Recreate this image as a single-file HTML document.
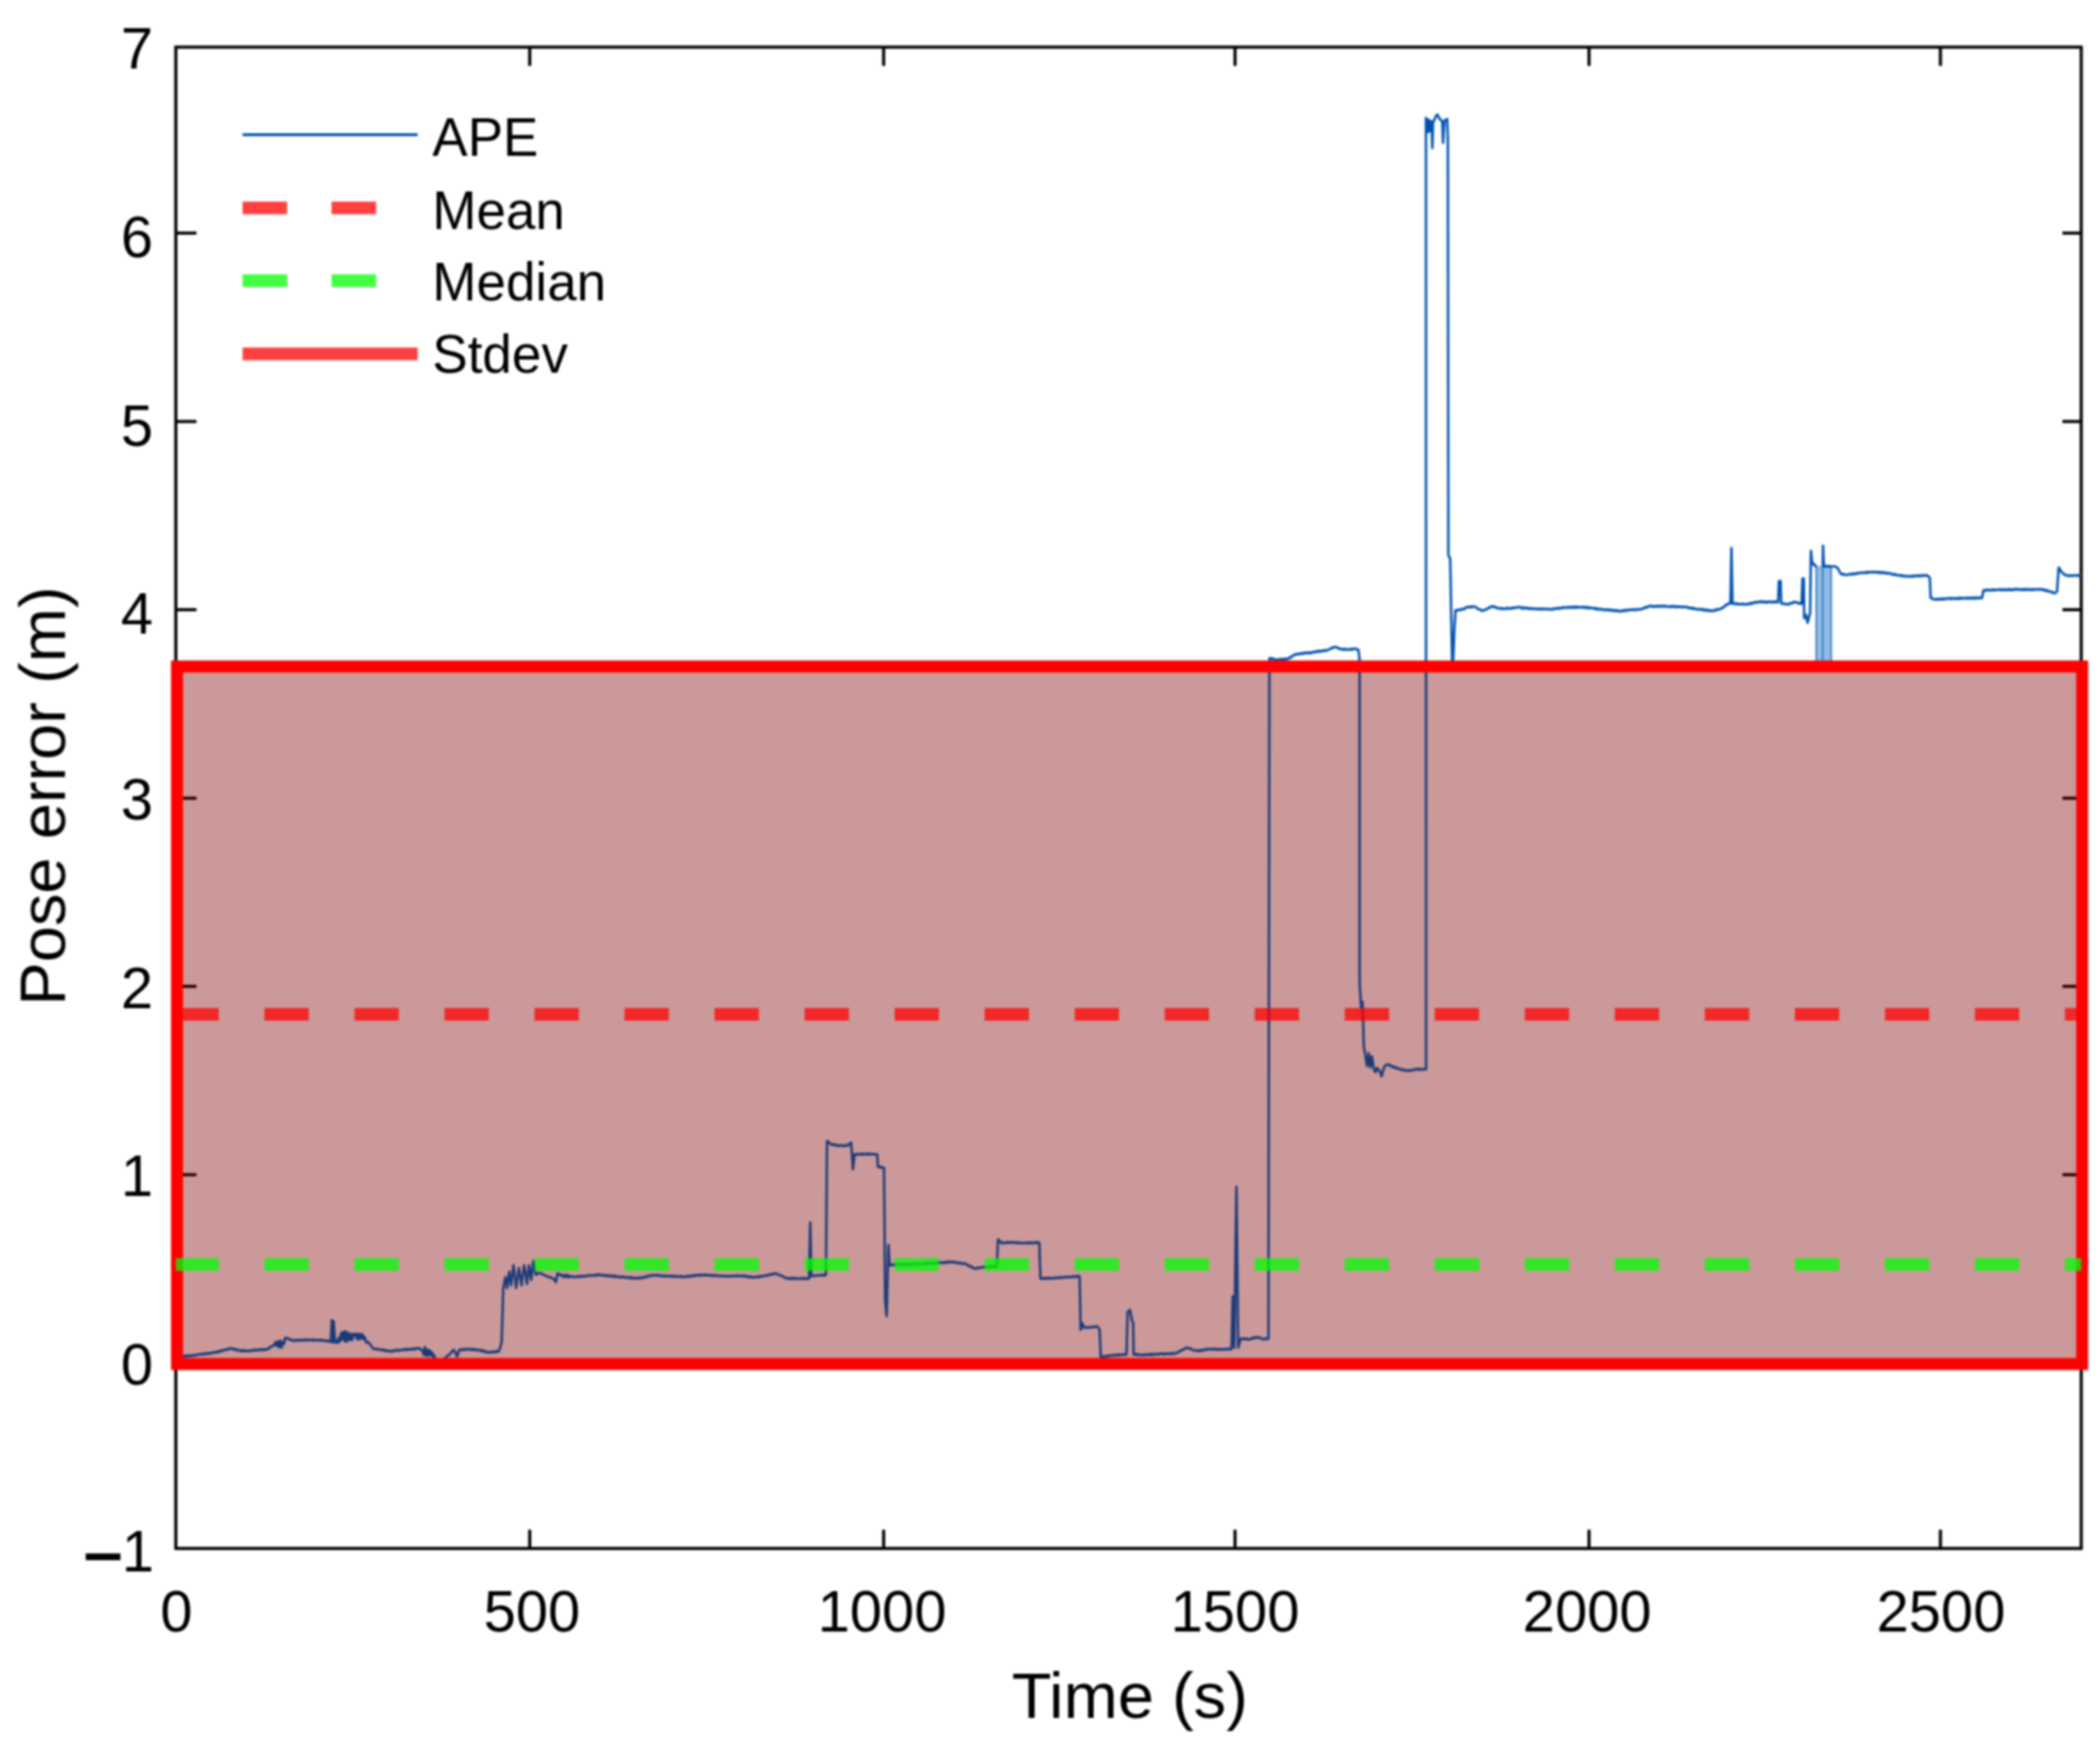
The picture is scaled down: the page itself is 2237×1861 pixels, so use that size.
<!DOCTYPE html>
<html lang="en">
<head>
<meta charset="utf-8">
<title>APE pose error over time</title>
<style>
html,body{margin:0;padding:0;background:#fff;}
body{width:2237px;height:1861px;overflow:hidden;}
svg{display:block;font-family:"Liberation Sans",Arial,Helvetica,sans-serif;}
</style>
</head>
<body>
<svg width="2237" height="1861" viewBox="0 0 2237 1861">
<defs><filter id="soft" filterUnits="userSpaceOnUse" x="0" y="0" width="2237" height="1861" color-interpolation-filters="sRGB"><feGaussianBlur stdDeviation="0.9"/></filter></defs>
<rect x="0" y="0" width="2237" height="1861" fill="#ffffff"/>
<g filter="url(#soft)">
<!-- axes frame and ticks -->
<g stroke="#000" stroke-width="3.3" fill="none" stroke-linecap="butt">
<rect x="187.3" y="50.2" width="2029.7" height="1599.3"/>
<line x1="564.3" y1="1649.5" x2="564.3" y2="1629.5"/>
<line x1="564.3" y1="50.2" x2="564.3" y2="70.2"/>
<line x1="941.3" y1="1649.5" x2="941.3" y2="1629.5"/>
<line x1="941.3" y1="50.2" x2="941.3" y2="70.2"/>
<line x1="1315.6" y1="1649.5" x2="1315.6" y2="1629.5"/>
<line x1="1315.6" y1="50.2" x2="1315.6" y2="70.2"/>
<line x1="1692.7" y1="1649.5" x2="1692.7" y2="1629.5"/>
<line x1="1692.7" y1="50.2" x2="1692.7" y2="70.2"/>
<line x1="2067.0" y1="1649.5" x2="2067.0" y2="1629.5"/>
<line x1="2067.0" y1="50.2" x2="2067.0" y2="70.2"/>
<line x1="187.3" y1="248.3" x2="209.3" y2="248.3"/>
<line x1="2217.0" y1="248.3" x2="2197.0" y2="248.3"/>
<line x1="187.3" y1="449.0" x2="209.3" y2="449.0"/>
<line x1="2217.0" y1="449.0" x2="2197.0" y2="449.0"/>
<line x1="187.3" y1="649.5" x2="209.3" y2="649.5"/>
<line x1="2217.0" y1="649.5" x2="2197.0" y2="649.5"/>
<line x1="187.3" y1="850.3" x2="209.3" y2="850.3"/>
<line x1="2217.0" y1="850.3" x2="2197.0" y2="850.3"/>
<line x1="187.3" y1="1050.7" x2="209.3" y2="1050.7"/>
<line x1="2217.0" y1="1050.7" x2="2197.0" y2="1050.7"/>
<line x1="187.3" y1="1251.4" x2="209.3" y2="1251.4"/>
<line x1="2217.0" y1="1251.4" x2="2197.0" y2="1251.4"/>
<line x1="187.3" y1="1451.6" x2="209.3" y2="1451.6"/>
<line x1="2217.0" y1="1451.6" x2="2197.0" y2="1451.6"/>
</g>
<!-- stdev band -->
<rect x="188.55" y="710.0" width="2029.45" height="743.0" fill="rgb(125,0,0)" fill-opacity="0.4" stroke="none"/>
<!-- APE trace -->
<defs>
<path id="ape" d="M194.4 1445.0L195.6 1444.5L196.8 1445.1L198.1 1444.1L199.3 1444.8L200.5 1443.8L201.7 1444.6L203.0 1443.8L204.2 1444.4L205.4 1443.5L206.6 1444.1L207.9 1443.2L209.1 1443.6L210.3 1442.8L211.6 1443.0L212.8 1442.3L214.0 1443.0L215.2 1442.2L216.5 1442.9L217.7 1441.6L218.9 1442.6L220.1 1441.5L221.4 1442.4L222.6 1441.3L223.8 1442.0L225.0 1440.9L226.3 1441.4L227.5 1440.6L228.7 1440.8L230.0 1440.1L231.2 1440.8L232.4 1439.5L233.6 1440.0L234.9 1438.7L236.1 1439.3L237.3 1438.1L238.5 1438.6L239.8 1437.7L241.0 1438.0L242.2 1436.8L243.4 1437.5L244.7 1436.4L245.9 1436.5L247.1 1436.2L248.3 1437.5L249.6 1436.9L250.8 1438.2L252.0 1437.3L253.3 1438.5L254.5 1438.5L255.7 1439.1L256.9 1438.2L258.2 1439.5L259.4 1438.4L260.6 1439.5L261.8 1438.5L263.1 1439.3L264.3 1438.9L265.6 1439.4L266.9 1438.3L268.2 1439.0L269.4 1438.1L270.7 1438.6L272.0 1437.7L273.2 1438.6L274.5 1437.9L275.7 1438.4L277.0 1437.3L278.2 1438.3L279.4 1437.3L280.6 1438.4L281.9 1437.4L283.1 1437.9L284.5 1436.7L286.0 1437.1L287.4 1435.1L288.8 1435.0L290.5 1433.4L292.3 1432.7L293.5 1429.5L294.8 1434.0L296.1 1429.1L297.4 1435.3L298.7 1428.0L300.0 1435.4L301.3 1429.6L302.6 1431.6L303.7 1425.0L305.0 1425.9L306.4 1425.4L307.7 1426.7L309.1 1426.5L310.4 1427.7L311.7 1427.9L312.9 1428.1L314.2 1427.5L315.4 1428.3L316.6 1427.4L317.9 1428.0L319.1 1427.2L320.3 1428.2L321.5 1427.3L322.8 1428.0L324.0 1427.0L325.2 1428.1L326.4 1426.8L327.7 1428.0L328.9 1427.3L330.1 1427.7L331.3 1427.0L332.6 1427.8L333.8 1426.8L335.0 1428.2L336.3 1427.2L337.5 1427.9L338.7 1427.3L339.9 1428.0L341.2 1427.2L342.4 1428.3L343.6 1427.4L344.8 1428.1L346.1 1427.9L347.3 1428.6L348.6 1428.0L349.8 1429.2L351.1 1428.3L352.4 1429.3L353.5 1406.4L354.4 1429.9L355.5 1407.6L356.7 1430.2L358.1 1427.8L359.5 1430.7L361.0 1424.7L362.2 1429.1L363.5 1419.7L364.8 1426.6L366.1 1418.6L367.3 1429.2L368.6 1418.4L369.9 1429.0L371.2 1420.0L372.4 1427.2L373.7 1420.9L375.0 1427.8L376.3 1420.8L377.6 1423.0L378.8 1420.8L380.0 1426.2L381.2 1420.7L382.4 1426.9L383.6 1421.3L384.8 1425.9L386.0 1421.2L387.2 1426.5L388.4 1424.2L390.1 1430.2L391.9 1429.3L393.3 1431.3L394.7 1432.7L396.2 1435.2L397.6 1436.5L398.8 1437.2L400.0 1436.6L401.3 1437.4L402.5 1436.9L403.7 1437.9L404.9 1437.4L406.2 1437.9L407.4 1437.5L408.6 1439.0L409.9 1438.0L411.1 1439.2L412.3 1438.6L413.5 1439.4L414.8 1439.3L416.1 1439.6L417.4 1438.7L418.7 1439.6L420.0 1438.5L421.3 1438.9L422.6 1437.9L423.9 1438.9L425.2 1438.0L426.5 1438.6L427.8 1437.8L429.1 1437.9L430.3 1437.3L431.5 1438.4L432.7 1436.9L434.0 1438.0L435.2 1437.0L436.4 1437.7L437.7 1436.9L438.9 1437.7L440.1 1436.5L441.3 1437.5L442.6 1436.4L443.8 1437.0L445.0 1436.0L446.2 1436.5L447.6 1436.4L448.9 1438.4L450.2 1438.5L451.4 1443.3L452.7 1435.0L453.9 1444.0L455.1 1437.8L456.3 1444.2L457.5 1438.3L458.7 1443.5L459.9 1440.3L461.1 1445.2L462.3 1443.0L464.0 1449.9L465.3 1449.4L466.7 1450.1L468.0 1448.7L469.3 1449.6L470.7 1448.3L472.0 1448.8L473.4 1446.8L474.9 1446.8L476.3 1444.4L477.7 1443.8L479.2 1442.2L480.6 1441.1L482.0 1439.0L483.4 1437.9L485.2 1441.1L486.9 1445.0L489.2 1437.9L490.4 1438.3L491.6 1437.1L492.8 1438.3L494.1 1437.1L495.3 1438.0L496.5 1436.8L497.8 1437.3L499.0 1437.1L500.3 1438.0L501.6 1436.9L502.8 1438.2L504.1 1437.1L505.4 1438.2L506.7 1437.4L507.9 1438.4L509.2 1437.9L510.5 1438.6L511.7 1437.9L513.0 1439.5L514.3 1438.7L515.6 1439.9L516.8 1439.1L518.1 1440.7L519.4 1440.1L520.7 1440.8L521.9 1440.3L523.1 1440.8L524.3 1439.6L525.5 1440.7L526.7 1439.6L527.9 1440.4L529.1 1439.0L530.3 1440.0L531.5 1439.3L533.0 1434.7L534.4 1429.3L536.1 1372.1L538.4 1360.6L540.1 1372.1L542.4 1354.9L544.4 1369.2L545.7 1358.0L547.0 1347.7L548.4 1359.6L549.8 1372.1L551.3 1361.1L552.7 1350.6L554.1 1359.2L555.6 1369.2L557.0 1357.9L558.4 1347.7L559.9 1357.3L561.3 1367.8L563.6 1347.7L565.9 1363.5L568.2 1343.4L569.5 1351.3L570.7 1357.8L572.2 1357.7L573.6 1356.2L575.0 1356.3L576.5 1356.3L577.9 1357.8L579.3 1357.7L580.8 1359.0L582.2 1359.2L583.6 1360.1L585.0 1359.8L586.5 1361.3L587.9 1361.0L589.3 1362.0L590.8 1363.6L592.2 1365.8L593.9 1356.3L595.3 1357.9L596.6 1357.4L597.9 1359.2L599.2 1358.3L600.5 1360.4L601.8 1358.0L603.1 1360.4L604.4 1358.2L605.7 1360.7L607.0 1359.2L608.3 1360.3L609.6 1359.6L610.9 1360.4L612.2 1360.0L613.5 1360.3L614.8 1359.6L616.1 1360.4L617.4 1359.4L618.7 1360.1L620.0 1359.0L621.3 1360.0L622.6 1359.0L623.9 1359.8L625.2 1358.8L626.5 1359.2L627.8 1358.5L629.0 1359.2L630.2 1358.3L631.4 1359.0L632.7 1358.2L633.9 1359.0L635.1 1357.8L636.3 1358.6L637.6 1357.4L638.8 1358.5L640.0 1357.8L640.5 1358.3L641.7 1358.0L643.0 1359.1L644.3 1358.2L645.6 1359.3L646.8 1358.3L648.1 1359.5L649.4 1358.6L650.6 1359.7L651.9 1358.7L653.2 1360.0L654.4 1358.9L655.7 1360.3L657.0 1359.4L658.3 1360.4L659.5 1360.0L660.8 1360.8L662.0 1359.6L663.3 1360.6L664.6 1360.1L665.8 1361.0L667.1 1360.4L668.3 1361.1L669.6 1360.6L670.9 1361.6L672.1 1360.5L673.4 1361.9L674.6 1361.0L675.9 1362.0L677.2 1361.0L678.4 1362.0L679.7 1361.1L681.0 1361.9L682.3 1360.9L683.5 1361.6L684.8 1360.3L686.1 1361.0L687.4 1359.8L688.7 1360.7L690.0 1359.0L691.3 1359.6L692.6 1358.5L693.9 1359.1L695.2 1358.3L696.5 1358.8L697.8 1358.2L699.1 1359.0L700.4 1358.1L701.6 1359.0L702.9 1358.4L704.2 1359.4L705.5 1358.8L706.8 1359.6L708.1 1358.7L709.3 1359.8L710.6 1359.2L711.9 1359.5L713.2 1358.9L714.5 1360.2L715.8 1358.9L717.0 1360.0L718.3 1359.3L719.6 1360.0L720.9 1359.2L722.2 1360.2L723.4 1359.5L724.7 1360.3L726.0 1359.3L727.3 1360.6L728.6 1360.0L729.9 1360.2L731.2 1359.4L732.5 1360.3L733.8 1359.0L735.1 1359.9L736.4 1358.9L737.7 1359.4L739.0 1358.4L740.3 1359.3L741.6 1358.4L742.9 1358.6L744.2 1357.9L745.5 1359.1L746.8 1357.9L748.1 1358.7L749.5 1357.8L750.8 1358.7L752.1 1357.7L753.4 1358.8L754.8 1358.3L756.0 1358.8L757.3 1358.0L758.6 1359.3L759.9 1358.3L761.2 1359.1L762.5 1358.4L763.7 1359.3L765.0 1358.8L766.3 1359.5L767.6 1359.0L768.9 1359.7L770.1 1359.0L771.4 1359.5L772.7 1359.1L774.0 1360.0L775.3 1359.0L776.6 1359.8L777.8 1359.0L779.1 1359.7L780.4 1359.0L781.7 1359.6L783.0 1358.9L784.2 1359.7L785.5 1358.6L786.8 1359.4L788.1 1359.0L789.4 1359.6L790.7 1358.6L791.9 1359.7L793.2 1358.9L794.5 1360.1L795.8 1359.3L797.1 1360.6L798.4 1359.6L799.6 1360.7L800.9 1359.8L802.2 1361.1L803.5 1360.2L804.8 1360.7L806.1 1359.9L807.5 1360.8L808.8 1359.5L810.2 1360.2L811.6 1359.1L812.9 1359.6L814.3 1359.0L815.6 1359.1L816.9 1358.2L818.3 1358.8L819.6 1357.6L820.9 1358.0L822.2 1357.2L823.5 1357.8L824.9 1356.3L826.2 1356.7L827.7 1356.7L829.2 1358.2L830.7 1358.1L832.1 1359.0L833.6 1359.4L835.1 1360.9L836.6 1360.9L838.1 1361.9L839.4 1361.5L840.7 1362.3L842.1 1361.2L843.4 1362.6L844.7 1361.4L846.0 1362.3L847.4 1361.2L848.7 1362.3L850.0 1361.9L851.3 1362.3L852.6 1361.7L854.0 1362.3L855.3 1361.4L856.6 1362.4L857.9 1361.6L859.3 1362.4L860.6 1361.7L861.9 1361.9L863.1 1302.4L864.3 1359.5L865.7 1359.0L867.1 1359.4L868.6 1358.5L870.0 1359.0L871.4 1358.6L872.8 1358.8L874.2 1358.1L875.6 1358.8L877.0 1357.9L878.4 1358.9L879.8 1358.3L881.0 1215.5L882.5 1216.1L884.1 1218.4L885.7 1219.0L887.1 1219.8L888.4 1218.8L889.8 1220.1L891.2 1219.5L892.5 1220.8L893.9 1220.0L895.2 1220.5L896.6 1219.9L898.0 1220.9L899.4 1220.1L900.8 1220.9L902.2 1219.6L903.6 1220.2L905.1 1218.2L906.7 1217.1L908.6 1245.7L910.2 1229.8L911.5 1229.1L912.7 1230.3L914.0 1229.3L915.2 1230.0L916.5 1229.0L917.7 1230.1L918.9 1228.8L920.2 1230.0L921.4 1229.3L922.7 1229.8L924.0 1228.7L925.4 1230.0L926.7 1228.9L928.0 1229.9L929.3 1229.3L930.6 1229.9L931.9 1229.3L933.2 1230.0L934.5 1229.8L935.2 1242.9L936.5 1242.5L937.8 1243.8L939.1 1243.0L940.4 1244.3L941.7 1244.0L942.9 1385.7L944.5 1401.9L946.4 1326.2L947.6 1347.6L949.0 1348.1L950.3 1347.0L951.7 1347.7L953.1 1346.7L954.4 1347.9L955.8 1346.7L957.1 1347.1L958.4 1346.6L959.6 1347.6L960.9 1346.8L962.2 1347.6L963.4 1346.6L964.7 1347.2L965.9 1346.5L967.2 1347.4L968.4 1346.5L969.7 1347.3L970.9 1346.0L972.2 1347.2L973.4 1346.2L974.7 1347.1L975.9 1346.0L977.2 1347.1L978.4 1346.0L979.7 1347.0L981.0 1346.4L982.2 1346.6L983.5 1346.0L984.8 1346.6L986.0 1345.5L987.3 1346.4L988.6 1345.4L989.8 1346.1L991.1 1345.5L992.4 1346.1L993.7 1345.1L994.9 1346.1L996.2 1344.9L997.5 1345.8L998.7 1344.8L1000.0 1345.2L1001.3 1344.7L1002.6 1345.5L1003.9 1344.6L1005.2 1345.5L1006.5 1344.4L1007.8 1345.3L1009.1 1343.8L1010.4 1344.6L1011.7 1343.8L1013.0 1344.8L1014.3 1344.0L1015.6 1344.9L1016.9 1344.0L1018.2 1345.1L1019.5 1344.6L1020.8 1345.8L1022.1 1345.0L1023.4 1346.1L1024.7 1345.5L1026.0 1346.5L1027.3 1345.5L1028.6 1346.4L1029.9 1346.8L1031.3 1348.4L1032.7 1348.0L1034.0 1349.8L1035.4 1349.3L1036.7 1350.9L1038.1 1351.2L1039.5 1351.7L1040.8 1350.4L1042.2 1350.9L1043.5 1350.3L1044.9 1350.8L1046.3 1349.7L1047.6 1350.0L1048.9 1349.5L1050.2 1350.1L1051.5 1349.3L1052.8 1350.0L1054.1 1348.8L1055.4 1349.6L1056.7 1348.7L1058.0 1349.8L1059.3 1348.7L1060.6 1349.6L1061.9 1348.8L1063.1 1320.2L1064.9 1321.7L1066.7 1324.3L1068.0 1323.5L1069.4 1324.4L1070.7 1323.5L1072.1 1324.2L1073.5 1322.9L1074.8 1324.0L1076.2 1323.3L1077.5 1323.8L1078.8 1323.1L1080.2 1324.0L1081.5 1323.5L1082.8 1324.2L1084.1 1323.3L1085.4 1324.4L1086.8 1323.5L1088.1 1324.3L1089.4 1323.9L1090.7 1324.5L1092.1 1323.6L1093.4 1324.4L1094.7 1323.6L1096.0 1324.6L1097.4 1323.3L1098.7 1324.5L1100.0 1323.8L1101.4 1324.3L1102.9 1323.1L1104.3 1324.5L1105.7 1323.3L1107.1 1323.8L1108.3 1361.9L1109.6 1362.4L1111.0 1361.5L1112.3 1362.3L1113.6 1361.3L1114.9 1362.3L1116.2 1361.1L1117.5 1361.9L1118.8 1361.3L1120.1 1362.1L1121.4 1361.4L1122.7 1361.7L1124.0 1360.8L1125.3 1361.6L1126.6 1360.8L1127.9 1361.7L1129.2 1360.3L1130.5 1361.3L1131.8 1360.4L1133.1 1361.2L1134.4 1360.3L1135.7 1360.7L1137.0 1360.2L1138.3 1360.8L1139.6 1360.1L1140.9 1360.6L1142.2 1359.5L1143.5 1360.5L1144.8 1359.6L1146.1 1360.5L1147.4 1359.0L1148.7 1360.1L1150.0 1359.5L1151.2 1416.7L1152.9 1409.5L1154.8 1414.3L1156.2 1413.9L1157.6 1414.4L1159.0 1413.7L1160.5 1414.3L1161.9 1413.8L1163.3 1414.0L1164.8 1413.2L1166.2 1413.7L1167.6 1412.7L1169.0 1413.1L1171.4 1416.7L1172.6 1445.7L1174.0 1444.9L1175.3 1445.9L1176.6 1444.7L1178.0 1445.3L1179.3 1444.2L1180.7 1444.9L1182.0 1443.9L1183.3 1444.0L1184.6 1443.7L1185.9 1444.2L1187.2 1443.1L1188.5 1444.0L1189.7 1443.1L1191.0 1444.0L1192.3 1442.8L1193.6 1443.7L1194.9 1442.9L1196.2 1443.5L1197.4 1442.6L1198.7 1443.4L1200.0 1442.9L1201.2 1397.6L1203.6 1395.2L1206.0 1407.1L1207.1 1409.5L1207.6 1442.9L1208.9 1442.2L1210.2 1443.6L1211.5 1442.4L1212.8 1443.4L1214.1 1442.9L1215.4 1443.8L1216.7 1443.3L1217.9 1443.9L1219.2 1442.7L1220.5 1443.7L1221.7 1442.8L1223.0 1443.4L1224.3 1442.3L1225.6 1443.5L1226.8 1442.2L1228.1 1443.4L1229.4 1442.3L1230.6 1442.9L1231.9 1442.3L1233.2 1443.0L1234.4 1441.9L1235.7 1442.4L1237.0 1441.7L1238.3 1442.8L1239.6 1441.7L1240.8 1442.8L1242.1 1441.7L1243.4 1442.5L1244.7 1441.7L1246.0 1442.5L1247.3 1441.5L1248.5 1442.5L1249.8 1441.2L1251.1 1442.1L1252.4 1441.7L1253.7 1441.3L1255.0 1440.0L1256.3 1440.2L1257.7 1438.5L1259.0 1438.7L1260.3 1437.4L1261.6 1437.5L1263.0 1435.9L1264.3 1435.7L1265.7 1435.8L1267.1 1437.0L1268.6 1436.6L1270.0 1437.9L1271.4 1438.1L1273.0 1438.9L1274.6 1438.4L1276.2 1439.3L1277.5 1438.3L1278.8 1439.3L1280.2 1437.8L1281.5 1438.7L1282.8 1437.6L1284.1 1438.1L1285.4 1436.8L1286.8 1437.7L1288.1 1436.9L1289.4 1437.4L1290.7 1436.8L1292.1 1437.6L1293.4 1436.7L1294.7 1437.7L1296.0 1437.0L1297.4 1438.0L1298.7 1436.9L1300.0 1437.6L1301.3 1437.2L1302.6 1437.7L1304.0 1437.0L1305.3 1437.7L1306.6 1436.7L1307.9 1437.5L1309.3 1436.5L1310.6 1437.6L1311.9 1436.9L1313.1 1381.0L1314.8 1435.7L1317.1 1264.3L1319.0 1435.7L1321.4 1426.2L1322.8 1425.8L1324.1 1426.7L1325.5 1425.7L1326.9 1426.8L1328.2 1425.9L1329.6 1426.9L1331.0 1426.7L1332.3 1426.6L1333.7 1425.3L1335.1 1425.9L1336.5 1424.4L1337.9 1425.2L1339.3 1424.3L1340.8 1425.1L1342.3 1424.9L1343.8 1426.1L1345.2 1426.2L1346.7 1426.7L1348.2 1425.5L1349.7 1426.5L1351.2 1426.2L1352.2 701.3L1353.5 701.1L1354.8 702.2L1356.1 701.5L1357.5 702.7L1358.8 702.4L1360.1 703.0L1361.3 702.6L1362.5 703.2L1363.7 702.0L1364.9 703.2L1366.1 701.9L1367.3 703.1L1368.5 701.6L1369.7 702.6L1370.9 701.7L1372.1 702.0L1373.5 700.3L1374.8 700.6L1376.2 698.8L1377.6 698.7L1379.0 697.2L1380.2 697.4L1381.4 696.5L1382.6 697.1L1383.9 696.3L1385.1 696.7L1386.3 695.9L1387.6 696.5L1388.8 695.3L1390.0 696.1L1391.2 695.0L1392.5 695.9L1393.7 695.0L1394.9 695.9L1396.1 695.1L1397.4 695.6L1398.6 694.3L1399.8 694.9L1401.0 694.0L1402.3 694.7L1403.5 693.4L1404.7 694.2L1405.9 693.3L1407.2 694.2L1408.4 693.1L1409.6 693.7L1410.9 692.4L1412.1 693.5L1413.3 692.7L1414.5 692.5L1415.8 691.5L1417.0 691.5L1418.2 690.1L1419.4 690.6L1420.7 689.2L1421.9 689.3L1423.3 689.0L1424.6 690.5L1426.0 690.1L1427.4 691.6L1428.8 691.3L1430.0 692.0L1431.2 691.2L1432.4 692.2L1433.7 691.3L1434.9 692.2L1436.1 691.7L1437.3 692.0L1438.6 691.3L1439.9 692.3L1441.2 691.0L1442.5 691.3L1444.0 690.9L1445.5 692.0L1447.0 692.0L1448.3 703.0L1448.3 1046.4L1450.0 1073.8L1451.4 1067.0L1452.8 1115.0L1454.5 1124.3L1456.2 1135.6L1457.9 1121.9L1459.7 1137.3L1461.4 1125.3L1462.7 1134.4L1464.1 1140.8L1465.5 1142.1L1466.9 1137.7L1468.2 1139.1L1470.0 1141.6L1471.7 1146.6L1473.4 1140.1L1475.1 1135.6L1476.8 1134.3L1478.5 1133.9L1479.8 1134.0L1481.1 1135.7L1482.4 1135.3L1483.7 1136.7L1485.0 1136.1L1486.3 1137.9L1487.6 1137.2L1488.8 1138.4L1490.1 1138.1L1491.4 1139.4L1492.7 1138.9L1494.0 1140.0L1495.3 1139.3L1496.6 1140.5L1497.9 1140.1L1499.1 1140.8L1500.4 1140.0L1501.7 1140.7L1503.0 1139.9L1504.3 1140.2L1505.6 1139.2L1506.9 1139.9L1508.2 1138.6L1509.4 1139.1L1510.6 1138.4L1511.8 1139.8L1513.0 1138.7L1514.2 1139.3L1515.5 1138.8L1516.7 1139.5L1517.9 1138.5L1519.1 1139.1L1519.0 125.8L1519.6 139.5L1520.4 126.9L1521.6 140.7L1522.7 128.1L1523.8 139.5L1525.0 129.2L1525.8 157.8L1526.5 130.4L1527.8 128.1L1529.6 123.5L1531.3 122.1L1533.0 125.8L1534.7 128.1L1536.4 128.7L1537.2 152.1L1538.4 130.4L1539.9 127.5L1541.6 126.9L1542.3 148.7L1542.9 591.4L1544.8 595.2L1545.7 642.9L1546.9 703.8L1548.0 703.8L1549.1 673.3L1550.5 650.1L1551.8 650.4L1553.1 649.5L1554.5 650.2L1555.8 649.1L1557.1 649.5L1558.6 648.4L1560.0 648.9L1561.4 647.0L1562.9 647.0L1564.1 646.4L1565.4 647.1L1566.7 646.0L1567.9 646.9L1569.2 645.9L1570.5 646.3L1572.1 646.6L1573.7 648.4L1575.2 648.6L1576.5 649.7L1577.8 649.7L1579.0 650.9L1580.6 649.7L1582.2 649.6L1583.8 648.6L1585.2 648.5L1586.7 646.6L1588.1 646.8L1589.5 645.7L1591.0 646.6L1592.4 646.0L1593.8 647.6L1595.2 647.6L1596.5 648.3L1597.8 647.6L1599.0 648.6L1600.4 647.9L1601.8 649.0L1603.1 648.0L1604.5 648.6L1605.9 647.4L1607.2 648.5L1608.6 647.8L1609.9 648.4L1611.3 647.3L1612.7 647.9L1614.0 647.1L1615.4 647.6L1616.7 646.5L1618.1 647.0L1619.4 646.7L1620.6 648.0L1621.9 647.0L1623.2 648.2L1624.4 647.2L1625.7 648.2L1627.0 647.3L1628.3 648.7L1629.5 647.9L1630.8 648.8L1632.1 647.9L1633.3 648.6L1634.6 648.3L1635.9 649.0L1637.1 648.3L1638.4 649.0L1639.7 648.3L1641.0 649.2L1642.2 648.2L1643.5 649.1L1644.8 648.5L1646.0 649.2L1647.3 648.3L1648.6 649.2L1649.8 648.5L1651.1 649.3L1652.4 649.0L1653.7 649.4L1654.9 648.1L1656.2 648.7L1657.5 648.0L1658.7 648.6L1660.0 647.5L1661.3 648.4L1662.5 647.4L1663.8 647.8L1665.1 646.8L1666.3 647.6L1667.6 647.0L1668.9 647.4L1670.2 646.6L1671.4 647.6L1672.7 646.5L1674.0 647.4L1675.2 646.4L1676.5 647.3L1677.8 646.2L1679.0 647.5L1680.3 646.3L1681.6 647.0L1682.9 646.7L1684.1 647.3L1685.3 646.5L1686.5 647.2L1687.7 646.4L1688.9 647.6L1690.1 646.7L1691.3 647.8L1692.6 646.9L1693.8 648.1L1695.0 647.4L1696.2 647.8L1697.4 647.7L1698.6 648.6L1699.8 647.7L1701.0 649.1L1702.3 648.3L1703.5 649.3L1704.7 648.5L1705.9 649.5L1707.1 648.9L1708.3 649.7L1709.5 649.5L1710.7 650.1L1712.0 649.0L1713.2 650.1L1714.4 649.4L1715.6 650.6L1716.9 649.4L1718.1 650.5L1719.3 650.0L1720.5 651.1L1721.8 649.8L1723.0 651.0L1724.2 650.4L1725.4 651.4L1726.7 650.9L1727.9 651.2L1729.2 649.9L1730.5 651.0L1731.7 649.7L1733.0 650.5L1734.3 649.5L1735.6 650.3L1736.8 649.4L1738.1 649.7L1739.5 649.0L1740.8 650.1L1742.2 649.1L1743.5 649.6L1744.9 648.7L1746.3 649.5L1747.6 649.0L1749.0 648.9L1750.3 647.7L1751.7 647.9L1753.1 646.5L1754.4 647.3L1755.8 645.9L1757.1 645.7L1758.4 645.2L1759.7 646.3L1761.0 645.5L1762.2 646.4L1763.5 645.5L1764.8 646.3L1766.0 645.3L1767.3 646.3L1768.6 645.4L1769.8 646.3L1771.1 645.3L1772.4 646.3L1773.7 645.3L1774.9 646.3L1776.2 645.9L1777.5 646.4L1778.7 645.8L1780.0 646.6L1781.3 645.6L1782.5 646.5L1783.8 645.6L1785.1 646.9L1786.3 645.9L1787.6 646.7L1788.9 646.0L1790.2 646.8L1791.4 646.2L1792.7 647.0L1794.0 646.3L1795.2 646.7L1796.5 646.4L1797.7 647.6L1798.9 647.0L1800.1 648.0L1801.3 647.4L1802.5 648.5L1803.7 647.5L1804.9 648.8L1806.1 648.3L1807.4 649.2L1808.6 649.0L1809.8 649.5L1811.1 648.5L1812.4 649.6L1813.7 648.8L1814.9 650.3L1816.2 649.1L1817.5 650.5L1818.7 649.6L1820.0 650.8L1821.3 649.8L1822.5 651.0L1823.8 650.5L1825.1 650.9L1826.3 649.6L1827.6 650.3L1828.9 648.8L1830.2 649.5L1831.4 649.0L1832.7 648.9L1834.0 647.5L1835.2 647.6L1836.5 646.0L1837.8 645.7L1839.0 643.8L1840.5 643.9L1842.0 642.6L1843.4 642.9L1844.4 583.8L1845.5 642.9L1846.9 642.7L1848.3 643.6L1849.6 642.5L1851.0 643.7L1852.4 643.4L1853.7 643.8L1855.1 643.1L1856.5 644.0L1857.8 643.4L1859.2 644.0L1860.5 643.4L1861.9 643.8L1863.2 642.8L1864.4 643.7L1865.7 642.2L1867.0 642.9L1868.3 641.6L1869.5 642.2L1870.8 641.1L1872.1 641.8L1873.3 641.0L1874.6 641.4L1875.9 640.4L1877.1 641.6L1878.4 640.6L1879.7 641.8L1881.0 640.9L1882.2 641.9L1883.5 640.8L1884.8 641.3L1886.1 640.9L1887.5 641.8L1888.8 640.8L1890.2 641.8L1891.6 640.6L1892.9 641.4L1894.3 641.0L1894.1 641.4L1895.0 619.0L1896.8 619.0L1897.3 642.3L1898.8 643.3L1900.2 642.6L1901.7 643.7L1903.1 643.8L1904.4 644.0L1905.7 642.8L1906.9 643.4L1908.2 642.1L1909.5 642.6L1910.8 641.1L1912.1 641.4L1913.5 641.3L1914.9 642.7L1916.4 642.1L1917.8 643.1L1919.2 643.2L1920.1 616.3L1921.4 616.3L1921.9 658.5L1923.7 654.9L1925.5 663.5L1926.9 657.6L1928.2 653.1L1929.1 586.7L1930.4 601.0L1931.8 600.1L1933.6 603.2L1934.3 602.8M1941.7 603.2L1942.0 581.3L1942.8 603.2L1944.0 603.5L1945.3 602.7L1946.5 603.6L1947.8 602.7L1949.0 603.8L1950.3 603.2L1951.9 603.2L1953.5 603.2L1955.2 603.7L1956.5 604.3L1957.8 605.5L1959.6 609.1L1961.4 611.8L1962.7 611.3L1963.9 612.2L1965.2 611.8L1966.5 612.5L1967.7 612.2L1969.0 612.3L1970.3 611.4L1971.6 612.0L1972.9 611.0L1974.2 611.9L1975.6 610.9L1976.9 611.6L1978.2 610.4L1979.5 611.0L1980.8 609.9L1982.1 610.4L1983.4 609.9L1984.7 610.5L1986.0 609.7L1987.3 610.5L1988.6 609.2L1989.9 610.3L1991.2 609.1L1992.5 609.8L1993.8 609.1L1995.1 609.8L1996.4 609.1L1997.7 609.8L1998.9 609.0L2000.2 610.1L2001.4 609.2L2002.7 610.5L2003.9 609.4L2005.1 610.4L2006.4 609.6L2007.6 610.6L2008.9 610.0L2010.1 611.1L2011.4 610.4L2012.6 610.9L2013.9 610.9L2015.2 612.0L2016.5 611.4L2017.7 612.4L2019.0 611.5L2020.3 612.8L2021.6 612.7L2022.9 613.2L2024.1 612.5L2025.4 613.7L2026.7 612.9L2028.0 614.2L2029.3 613.5L2030.6 614.0L2031.9 613.5L2033.2 614.3L2034.6 613.6L2035.9 614.4L2037.3 613.1L2038.6 614.3L2040.0 613.4L2041.3 613.6L2042.6 612.9L2043.9 614.0L2045.2 612.9L2046.5 613.8L2047.8 612.7L2049.1 613.4L2050.4 612.6L2051.7 613.2L2053.0 612.7L2054.3 614.3L2055.7 615.4L2056.6 636.9L2058.1 637.0L2059.6 638.5L2061.1 638.4L2062.4 638.9L2063.7 637.7L2065.0 638.8L2066.3 637.8L2067.6 638.6L2068.9 637.6L2070.2 638.6L2071.5 637.5L2072.8 638.3L2074.1 637.4L2075.4 637.8L2076.7 637.1L2078.0 638.1L2079.3 637.1L2080.6 637.9L2081.9 637.3L2083.1 638.0L2084.4 637.0L2085.7 638.2L2087.0 636.9L2088.3 637.9L2089.5 636.8L2090.8 637.8L2092.1 637.0L2093.4 637.3L2094.7 636.6L2096.0 637.8L2097.2 636.7L2098.5 637.8L2099.8 636.5L2101.1 637.6L2102.4 636.5L2103.7 637.7L2104.9 636.4L2106.2 637.5L2107.5 636.5L2108.8 637.5L2110.1 636.6L2111.3 636.9L2112.8 628.9L2114.1 629.2L2115.3 628.3L2116.6 629.0L2117.9 628.0L2119.1 629.0L2120.4 628.4L2121.7 628.9L2122.9 627.9L2124.2 628.9L2125.5 628.1L2126.8 628.7L2128.0 628.1L2129.3 628.3L2130.6 627.7L2131.9 628.8L2133.1 627.7L2134.4 628.8L2135.7 627.9L2137.0 628.7L2138.3 627.7L2139.6 628.7L2140.8 627.5L2142.1 628.7L2143.4 627.8L2144.7 628.7L2146.0 627.3L2147.3 628.0L2148.5 627.3L2149.7 628.3L2150.9 627.6L2152.1 628.3L2153.4 627.7L2154.6 628.6L2155.8 627.4L2157.0 628.5L2158.3 627.4L2159.5 628.5L2160.7 627.6L2161.9 628.3L2163.2 627.7L2164.4 628.6L2165.6 627.6L2166.8 628.4L2168.1 627.5L2169.3 628.2L2170.5 627.6L2171.7 628.3L2173.0 627.4L2174.2 628.0L2175.5 627.8L2176.7 628.9L2178.0 628.1L2179.3 629.5L2180.6 628.6L2181.9 630.0L2183.2 629.8L2184.5 630.6L2185.9 630.4L2187.2 631.8L2188.5 631.9L2189.9 631.4L2191.2 629.8L2193.0 604.6L2194.4 606.5L2195.7 609.1L2197.1 609.9L2198.4 611.8L2199.8 612.0L2201.1 613.2L2202.5 612.8L2204.0 613.7L2205.4 612.7L2206.9 613.6L2208.3 612.9L2209.6 613.3L2211.0 612.8L2212.3 613.4L2213.7 612.5L2215.0 613.9L2216.4 613.2" fill="none" stroke-width="2.6" stroke-linejoin="round" stroke-linecap="round"/>
<clipPath id="cOut"><rect x="0" y="0" width="2237" height="710.0"/></clipPath>
<clipPath id="cIn"><rect x="0" y="710.0" width="2237" height="743.0"/></clipPath>
</defs>
<rect x="1934.2" y="603" width="17" height="101" fill="#0060b9" fill-opacity="0.42"/>
<path d="M1934.7 602V704M1941.6 603V704M1950.6 603V704" fill="none" stroke="#0060b9" stroke-width="1.5" stroke-opacity="0.8"/>
<use href="#ape" stroke="#0052b0" clip-path="url(#cOut)"/>
<use href="#ape" stroke="#1b3a79" clip-path="url(#cIn)"/>
<rect x="188.55" y="710.0" width="2029.45" height="743.0" fill="none" stroke="#ff0000" stroke-width="12.8"/>
<!-- mean / median -->
<line x1="187.3" y1="1080.6" x2="2217.0" y2="1080.6" stroke="#ff0000" stroke-opacity="0.75" stroke-width="13.5" stroke-dasharray="47.2 48.7" stroke-dashoffset="1.5"/>
<line x1="187.3" y1="1347.1" x2="2217.0" y2="1347.1" stroke="#00ff00" stroke-opacity="0.75" stroke-width="13.5" stroke-dasharray="47.2 48.7" stroke-dashoffset="1.5"/>
<!-- tick labels -->
<g fill="#000">
<text transform="translate(188.00 1738.00) scale(1 1.015)" font-size="61.7" text-anchor="middle">0</text>
<text transform="translate(566.70 1738.00) scale(1 1.015)" font-size="61.7" text-anchor="middle">500</text>
<text transform="translate(939.60 1738.00) scale(1 1.015)" font-size="61.7" text-anchor="middle">1000</text>
<text transform="translate(1315.60 1738.00) scale(1 1.015)" font-size="61.7" text-anchor="middle">1500</text>
<text transform="translate(1690.70 1738.00) scale(1 1.015)" font-size="61.7" text-anchor="middle">2000</text>
<text transform="translate(2067.60 1738.00) scale(1 1.015)" font-size="61.7" text-anchor="middle">2500</text>
<text transform="translate(163.00 72.80) scale(1 1.015)" font-size="61.7" text-anchor="end">7</text>
<text transform="translate(163.00 273.60) scale(1 1.015)" font-size="61.7" text-anchor="end">6</text>
<text transform="translate(163.00 474.80) scale(1 1.015)" font-size="61.7" text-anchor="end">5</text>
<text transform="translate(163.00 674.80) scale(1 1.015)" font-size="61.7" text-anchor="end">4</text>
<text transform="translate(163.00 873.40) scale(1 1.015)" font-size="61.7" text-anchor="end">3</text>
<text transform="translate(163.00 1074.00) scale(1 1.015)" font-size="61.7" text-anchor="end">2</text>
<text transform="translate(163.00 1274.20) scale(1 1.015)" font-size="61.7" text-anchor="end">1</text>
<text transform="translate(163.00 1474.70) scale(1 1.015)" font-size="61.7" text-anchor="end">0</text>
<text transform="translate(88.6 1674.20) scale(1 1.015)" font-size="61.7"><tspan font-weight="bold" font-size="64" dy="5.7" textLength="43.1" lengthAdjust="spacingAndGlyphs" stroke="none">−</tspan><tspan dy="-5.7" dx="-1.9">1</tspan></text>
</g>
<!-- axis titles -->
<g fill="#000">
<text transform="translate(1203.60 1830.10) scale(1 1.0)" font-size="69.3" text-anchor="middle">Time (s)</text>
<text transform="translate(69.20 848.00) rotate(-90) scale(1 1.0)" font-size="69.3" text-anchor="middle">Pose error (m)</text>
</g>
<!-- legend -->
<g>
<line x1="258.4" y1="143.5" x2="444.9" y2="143.5" stroke="#004fae" stroke-width="2.9"/>
<line x1="258.4" y1="221.4" x2="444.9" y2="221.4" stroke="#ff0000" stroke-opacity="0.75" stroke-width="13.5" stroke-dasharray="47.4 47.4"/>
<line x1="258.4" y1="298.9" x2="444.9" y2="298.9" stroke="#00ff00" stroke-opacity="0.75" stroke-width="13.5" stroke-dasharray="47.4 47.4"/>
<line x1="258.4" y1="377" x2="444.9" y2="377" stroke="#ff0000" stroke-opacity="0.75" stroke-width="13.5"/>
<g fill="#000">
<text transform="translate(460.50 165.80) scale(1 1.015)" font-size="56.5" text-anchor="start">APE</text>
<text transform="translate(460.50 244.00) scale(1 1.015)" font-size="56.5" text-anchor="start">Mean</text>
<text transform="translate(460.50 319.60) scale(1 1.015)" font-size="56.5" text-anchor="start">Median</text>
<text transform="translate(460.50 397.30) scale(1 1.015)" font-size="56.5" text-anchor="start">Stdev</text>
</g>
</g>
</g>
</svg>
</body>
</html>
